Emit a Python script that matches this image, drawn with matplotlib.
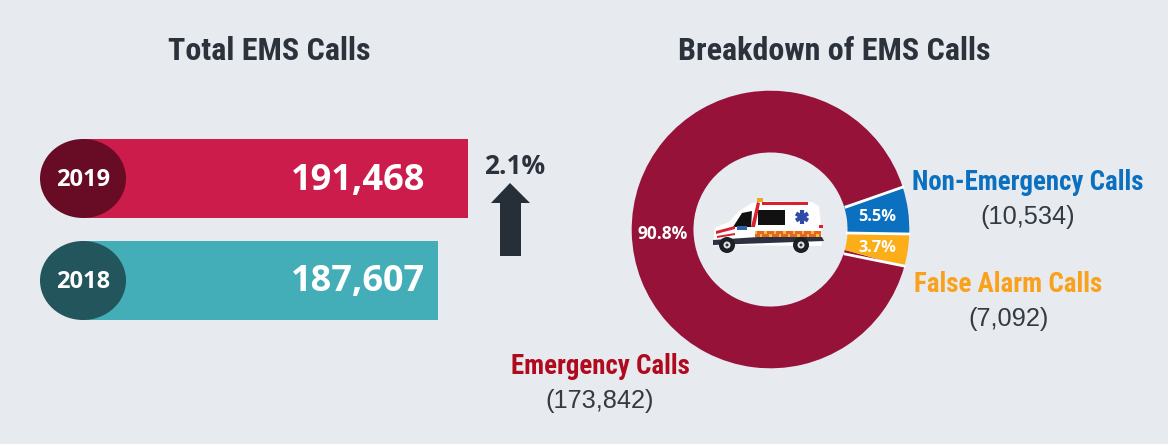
import matplotlib
matplotlib.use('Agg')
import matplotlib.pyplot as plt
from matplotlib import font_manager as fm
from matplotlib.patches import Circle, Ellipse, Polygon, Rectangle

W, H = 1168, 444
BG = '#e7eaef'

years = ['2019', '2018']
totals = [191468, 187607]
bar_colors = ['#cb1c4c', '#43aeb8']
badge_colors = ['#680c25', '#22555c']

change_label = '2.1%'

breakdown_names = ['Emergency Calls', 'Non-Emergency Calls', 'False Alarm Calls']
breakdown_counts = [173842, 10534, 7092]
breakdown_colors = ['#961238', '#0a70bf', '#fbae17']
breakdown_pct = ['90.8%', '5.5%', '3.7%']

installed = {f.name for f in fm.fontManager.ttflist}
narrow = 'Roboto'
for name in ['Roboto Condensed', 'Liberation Sans Narrow', 'Noto Sans Condensed', 'Open Sans Condensed']:
    if name in installed:
        narrow = name
        break


def px_axes(fig, x0, y0, x1, y1):
    # axes placed by pixel box, y measured from the top of the image
    return fig.add_axes([x0 / W, 1 - y1 / H, (x1 - x0) / W, (y1 - y0) / H])


fig = plt.figure(figsize=(W / 100, H / 100), dpi=100, facecolor=BG)

# bars, axis is cut off well above zero like the original
bar_ax = px_axes(fig, 85, 128, 468, 331)
bar_ax.set_xlim(142180, totals[0])
bar_ax.set_ylim(1.5, -0.5)
bar_ax.barh(range(2), [t - 142180 for t in totals], left=142180, height=0.775, color=bar_colors)
bar_ax.axis('off')

# donut
pie_ax = px_axes(fig, 631, 90, 910, 369)
pie_ax.pie(breakdown_counts, colors=breakdown_colors, startangle=-15.4, counterclock=False,
           radius=1.0, wedgeprops=dict(width=0.445, edgecolor='white', linewidth=0))
pie_ax.set_xlim(-1.005, 1.005)
pie_ax.set_ylim(-1.005, 1.005)

# overlay in image pixels for badges, text, arrow and ambulance
ov = fig.add_axes([0, 0, 1, 1])
ov.set_xlim(0, W)
ov.set_ylim(H, 0)
ov.axis('off')
ov.patch.set_alpha(0)

for cy, yr, c in zip([178.5, 280.5], years, badge_colors):
    ov.add_patch(Ellipse((83, cy), 86, 79, color=c, lw=0))
    ov.text(83, cy + 1.5, yr, color='white', fontsize=17, fontweight='bold', family='Open Sans',
            ha='center', va='center')

for cy, t in zip([181, 282], totals):
    ov.text(425, cy, f'{t:,}', color='white', fontsize=26, fontweight='bold', family='Open Sans',
            ha='right', va='center')

title_color = '#2b323b'
ov.text(269, 51, 'Total EMS Calls', color=title_color, fontsize=23, fontweight='bold',
        family=narrow, ha='center', va='center')
ov.text(834, 51, 'Breakdown of EMS Calls', color=title_color, fontsize=23, fontweight='bold',
        family=narrow, ha='center', va='center')

# growth arrow
ov.text(515, 166, change_label, color=title_color, fontsize=19, fontweight='bold', family='Open Sans',
        ha='center', va='center')
ov.add_patch(Polygon([(510, 183), (530, 203), (521, 203), (521, 256), (500, 256), (500, 203), (491, 203)],
                     closed=True, color='#262e38', lw=0))

# white separators round the two small slices
ov.plot([846, 903], [207, 187], color='white', lw=2)
ov.plot([847, 909], [233, 234], color='white', lw=2)
ov.plot([845, 904], [254, 266], color='white', lw=2)

ov.text(663, 234, breakdown_pct[0], color='white', fontsize=12.5, fontweight='bold',
        family='Open Sans', ha='center', va='center')
ov.text(877, 217, breakdown_pct[1], color='white', fontsize=11.8, fontweight='bold',
        family='Open Sans', ha='center', va='center')
ov.text(877, 248, breakdown_pct[2], color='white', fontsize=11.8, fontweight='bold',
        family='Open Sans', ha='center', va='center')

label_pos = [(600, 366, 401), (1028, 182, 217), (1008.5, 284, 319)]
label_colors = ['#b00a1e', '#0a70bf', '#f9a11b']
for (x, y1, y2), name, n, c in zip(label_pos, breakdown_names, breakdown_counts, label_colors):
    ov.text(x, y1, name, color=c, fontsize=19.4, fontweight='bold', family=narrow, ha='center', va='center')
    ov.text(x, y2, f'({n:,})', color='#333a42', fontsize=18.3, family='Liberation Sans',
            ha='center', va='center')

# ambulance
ov.add_patch(Polygon([(714, 231), (716, 227), (729, 222), (738, 212), (750, 204), (760, 201), (812, 202),
                      (819, 206), (821, 226), (822, 244), (821, 246), (714, 245)],
                     closed=True, color='white', lw=0))
ov.add_patch(Rectangle((758, 210), 27, 15, color='#111111', lw=0))
ov.add_patch(Polygon([(733, 227), (742, 213), (752, 211), (751, 227)], closed=True, color='#111111', lw=0))
ov.add_patch(Polygon([(757, 202), (760, 203), (755, 227), (751, 227)], closed=True, color='#d8202e', lw=0))
ov.add_patch(Rectangle((762, 202), 46, 2.5, color='#d8202e', lw=0))
ov.add_patch(Rectangle((755, 231), 66, 6, color='#e8652a', lw=0))
for i in range(14):
    ov.add_patch(Rectangle((755 + i * 4.7, 231 + (i % 2) * 3), 2.4, 3, color='#f3c32b', lw=0))
ov.add_patch(Polygon([(716, 231), (735, 226), (735, 229), (716, 234)], closed=True, color='#d8202e', lw=0))
ov.add_patch(Polygon([(717, 236), (735, 233), (735, 235), (717, 238)], closed=True, color='#d8202e', lw=0))
ov.add_patch(Rectangle((737, 226), 10, 4, color='#2f62a8', lw=0))
ov.add_patch(Polygon([(713, 240), (758, 237), (822, 237), (824, 241), (713, 245)], closed=True, color='#2b3140', lw=0))
ov.add_patch(Rectangle((757, 198), 6, 4, color='#f2a91c', lw=0))
ov.add_patch(Rectangle((819, 225), 4, 3, color='#d8202e', lw=0))
# star of life
for dx, dy in [(0, -7), (0, 7), (-6, -3.5), (6, 3.5), (-6, 3.5), (6, -3.5)]:
    ov.plot([802, 802 + dx], [217, 217 + dy], color='#2f4aa8', lw=3, solid_capstyle='butt')
for cx in (727, 801):
    ov.add_patch(Circle((cx, 245), 8, color='#1c1f24', lw=0))
    ov.add_patch(Circle((cx, 245), 3.5, color='#e3e3e3', lw=0))
    ov.add_patch(Circle((cx, 245), 1.5, color='#333333', lw=0))

fig.savefig('out.png', dpi=100, facecolor=BG)
